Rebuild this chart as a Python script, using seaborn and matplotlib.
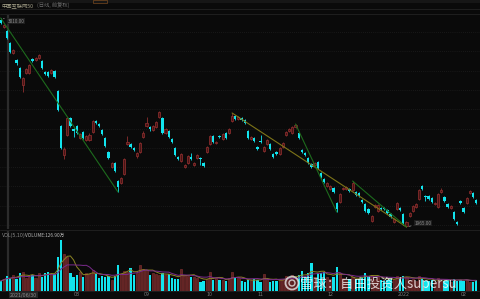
import numpy as np
import pandas as pd
import matplotlib
matplotlib.use("Agg")
import matplotlib.pyplot as plt
import seaborn as sns
from matplotlib.patches import Ellipse, Rectangle

# ---------------- data (daily candles) ----------------
opens = [3000, 2965, 2945, 2885, 2835, 2800, 2760, 2675, 2735, 2735,
         2805, 2800, 2810, 2795, 2740, 2740, 2735, 2745, 2645, 2470,
         2325, 2425, 2510, 2455, 2470, 2410, 2440, 2400, 2400, 2440,
         2495, 2480, 2450, 2410, 2340, 2265, 2285, 2195, 2185, 2230,
         2380, 2380, 2360, 2320, 2340, 2415, 2470, 2465, 2450, 2465,
         2515, 2510, 2435, 2445, 2405, 2360, 2315, 2295, 2265, 2285,
         2315, 2275, 2310, 2310, 2285, 2340, 2380, 2420, 2385, 2420,
         2405, 2435, 2435, 2495, 2520, 2505, 2510, 2500, 2445, 2405,
         2410, 2365, 2395, 2345, 2380, 2380, 2330, 2340, 2330, 2365,
         2425, 2445, 2435, 2465, 2435, 2350, 2335, 2310, 2280, 2275,
         2290, 2235, 2205, 2170, 2155, 2160, 2085, 2090, 2155, 2155,
         2155, 2150, 2140, 2135, 2100, 2080, 2055, 1995, 2065, 2045,
         2060, 2060, 2050, 2030, 1990, 2055, 2060, 2030, 1970, 2020,
         2045, 2065, 2105, 2170, 2120, 2120, 2110, 2080, 2065, 2140,
         2115, 2080, 2060, 2040, 1990, 2095, 2060, 2085, 2135, 2135,
         2100]
highs = [3010, 2980, 2950, 2890, 2855, 2805, 2765, 2715, 2760, 2780,
         2810, 2815, 2830, 2800, 2745, 2745, 2755, 2750, 2650, 2475,
         2365, 2515, 2515, 2460, 2475, 2435, 2445, 2425, 2435, 2500,
         2500, 2485, 2455, 2415, 2345, 2290, 2290, 2200, 2215, 2310,
         2420, 2385, 2365, 2340, 2390, 2445, 2515, 2470, 2475, 2495,
         2545, 2515, 2460, 2450, 2410, 2365, 2320, 2335, 2280, 2325,
         2335, 2290, 2330, 2315, 2290, 2370, 2425, 2425, 2395, 2425,
         2435, 2440, 2460, 2535, 2525, 2520, 2515, 2505, 2450, 2420,
         2415, 2370, 2425, 2370, 2405, 2385, 2335, 2345, 2365, 2390,
         2445, 2460, 2470, 2480, 2440, 2355, 2340, 2315, 2285, 2290,
         2295, 2240, 2210, 2190, 2175, 2165, 2090, 2135, 2165, 2170,
         2160, 2195, 2145, 2140, 2105, 2085, 2060, 2025, 2080, 2080,
         2065, 2065, 2055, 2035, 2010, 2090, 2065, 2035, 1995, 2040,
         2075, 2085, 2155, 2175, 2125, 2125, 2115, 2090, 2135, 2160,
         2120, 2085, 2075, 2045, 1995, 2100, 2065, 2115, 2150, 2140,
         2105]
lows = [2980, 2960, 2905, 2835, 2830, 2775, 2710, 2640, 2730, 2730,
        2790, 2795, 2805, 2755, 2725, 2715, 2730, 2710, 2545, 2355,
        2305, 2420, 2465, 2415, 2430, 2405, 2405, 2395, 2395, 2435,
        2480, 2465, 2425, 2365, 2305, 2260, 2240, 2140, 2180, 2225,
        2375, 2360, 2345, 2310, 2335, 2410, 2465, 2445, 2445, 2460,
        2510, 2430, 2430, 2410, 2385, 2320, 2300, 2290, 2260, 2280,
        2300, 2270, 2305, 2275, 2265, 2335, 2375, 2385, 2380, 2410,
        2400, 2405, 2430, 2490, 2500, 2500, 2495, 2480, 2405, 2400,
        2390, 2350, 2385, 2340, 2375, 2350, 2310, 2325, 2325, 2360,
        2420, 2440, 2430, 2460, 2405, 2335, 2320, 2280, 2260, 2270,
        2255, 2210, 2185, 2165, 2150, 2135, 2040, 2085, 2150, 2150,
        2140, 2145, 2120, 2115, 2085, 2040, 2030, 1990, 2060, 2040,
        2050, 2050, 2030, 2010, 1985, 2050, 2045, 1975, 1965, 2015,
        2040, 2060, 2100, 2150, 2095, 2100, 2085, 2075, 2060, 2135,
        2090, 2060, 2055, 2000, 1975, 2080, 2035, 2080, 2130, 2110,
        2080]
closes = [2985, 2975, 2910, 2840, 2850, 2785, 2715, 2710, 2755, 2775,
          2795, 2810, 2825, 2760, 2730, 2720, 2750, 2715, 2550, 2360,
          2355, 2510, 2470, 2445, 2435, 2430, 2410, 2420, 2425, 2495,
          2485, 2470, 2430, 2370, 2310, 2285, 2245, 2165, 2210, 2305,
          2390, 2365, 2350, 2335, 2385, 2435, 2485, 2455, 2470, 2490,
          2540, 2435, 2455, 2415, 2390, 2325, 2305, 2330, 2275, 2320,
          2305, 2285, 2325, 2305, 2270, 2365, 2420, 2390, 2390, 2415,
          2430, 2410, 2455, 2520, 2505, 2515, 2500, 2485, 2410, 2415,
          2395, 2355, 2390, 2365, 2400, 2355, 2315, 2330, 2360, 2385,
          2440, 2455, 2465, 2475, 2410, 2340, 2325, 2285, 2265, 2285,
          2260, 2215, 2190, 2185, 2170, 2140, 2055, 2130, 2160, 2165,
          2145, 2185, 2125, 2120, 2090, 2045, 2035, 2020, 2075, 2075,
          2055, 2055, 2035, 2015, 2005, 2085, 2050, 1980, 1990, 2035,
          2070, 2080, 2150, 2155, 2115, 2105, 2090, 2085, 2130, 2150,
          2095, 2065, 2070, 2005, 1980, 2085, 2040, 2110, 2145, 2115,
          2085]
volumes = [19, 24, 29, 26, 31, 23, 36, 38, 26, 27,
           32, 26, 36, 27, 36, 37, 34, 33, 67, 101,
           74, 67, 36, 27, 32, 37, 27, 36, 34, 42,
           33, 25, 29, 27, 29, 22, 29, 52, 34, 39,
           37, 45, 32, 36, 51, 44, 42, 32, 35, 33,
           31, 35, 31, 33, 25, 24, 24, 44, 31, 29,
           27, 27, 25, 17, 19, 24, 37, 22, 26, 22,
           21, 19, 26, 37, 26, 26, 19, 17, 21, 22,
           24, 21, 18, 34, 24, 17, 19, 20, 24, 24,
           30, 26, 32, 24, 32, 40, 28, 36, 56, 28,
           36, 36, 37, 28, 24, 28, 48, 36, 26, 22,
           24, 28, 24, 24, 28, 36, 30, 32, 24, 28,
           22, 20, 22, 24, 24, 30, 24, 30, 28, 22,
           24, 20, 30, 24, 20, 20, 22, 18, 26, 20,
           20, 22, 18, 24, 20, 22, 20, 22, 18, 17,
           21]

month_pos = [24, 46, 66, 82, 104, 127, 146]
month_labels = ["08", "09", "10", "11", "12", "2022", "02"]

# trend lines drawn from the high of one candle to the low of another
trend_start = [0, 73, 93, 111]
trend_end = [37, 128, 106, 128]
trend_colors = ["#1d6b1d", "#7d7418", "#1d6b1d", "#1d6b1d"]

title_name = "中国互联网50"
title_note = "(日线, 前复权)"
cursor_date = "2021/06/30"
vol_label = "VOL(5,10)"
vol_value = "VOLUME:126.90万"
watermark = "雪球：自由投资人supersu"

# ---------------- style ----------------
BG = "#0a0a0a"
CYAN = "#12e4ee"
RED_EDGE = "#8e2e2e"
RED_FACE = "#461515"
VOL_RED_FACE = "#5a2222"
sns.set_theme(style="dark", rc={"axes.facecolor": BG, "figure.facecolor": BG,
                                "savefig.facecolor": BG})
plt.rcParams["font.family"] = ["Noto Sans CJK SC", "DejaVu Sans"]

W, H = 480, 299
fig = plt.figure(figsize=(W / 100, H / 100), dpi=100)

def fy(py):
    return 1 - py / H

ax = fig.add_axes([0, fy(229), 1, (229 - 15) / H])
axv = fig.add_axes([0, fy(290.5), 1, (290.5 - 231) / H])

df = pd.DataFrame({"open": opens, "high": highs, "low": lows,
                   "close": closes, "volume": volumes})
df["idx"] = np.arange(len(df))
up = df["close"] >= df["open"]

xlim = (-0.22, 151.2)
for a in (ax, axv):
    a.set_xlim(*xlim)
    a.set_facecolor(BG)
    for s in a.spines.values():
        s.set_visible(False)
    a.set_xticks([])
    a.tick_params(left=False, bottom=False, labelleft=False, labelbottom=False)

ax.set_ylim(1955, 3025)
axv.set_ylim(0, 119)

# horizontal dotted grid
grid_y = 2940 - 96.5 * np.arange(11)
ax.set_yticks(grid_y)
ax.grid(axis="y", color="#262626", lw=0.5, ls=(0, (1, 2)))
ax.grid(axis="x", visible=False)
axv.set_yticks([])
axv.grid(False)

# crosshair line
for a in (ax, axv):
    a.axvline(2.4, color="#2c2c2c", lw=1.6, zorder=1)

# wicks
wick_colors = np.where(up, RED_EDGE, CYAN)
ax.vlines(df["idx"], df["low"], df["high"], colors=wick_colors, lw=0.6, zorder=2)
# bodies
body_bottom = np.minimum(df["open"], df["close"])
body_h = np.maximum(np.abs(df["close"] - df["open"]), 4)
ax.bar(df["idx"][~up], body_h[~up], bottom=body_bottom[~up], width=0.74,
       color=CYAN, lw=0, zorder=3)
ax.bar(df["idx"][up], body_h[up], bottom=body_bottom[up], width=0.66,
       facecolor=RED_FACE, edgecolor=RED_EDGE, lw=0.55, zorder=3)

# trend lines
for s, e, c in zip(trend_start, trend_end, trend_colors):
    ax.plot([s, e], [highs[s], lows[e]], color=c, lw=0.8, zorder=4)

# high / low labels
hi_i = int(np.argmax(highs))
lo_i = int(np.argmin(lows))
box = dict(boxstyle="square,pad=0.15", fc="#1e1e1e", ec="none")
ax.annotate(f"{highs[hi_i]:.2f}", xy=(hi_i, highs[hi_i]), xytext=(7, -3),
            textcoords="offset pixels", fontsize=3.4, color="#8c8c8c",
            va="center", ha="left", bbox=box,
            arrowprops=dict(arrowstyle="-", color="#9a9a9a", lw=0.5))
ax.annotate(f"{lows[lo_i]:.2f}", xy=(lo_i, lows[lo_i]), xytext=(8, 4),
            textcoords="offset pixels", fontsize=3.4, color="#8c8c8c",
            va="center", ha="left", bbox=box,
            arrowprops=dict(arrowstyle="-", color="#9a9a9a", lw=0.5))

# volume bars
axv.bar(df["idx"][~up], df["volume"][~up], width=0.74, color=CYAN, lw=0, zorder=3)
axv.bar(df["idx"][up], df["volume"][up], width=0.68, facecolor=VOL_RED_FACE,
        edgecolor="#7a2c2c", lw=0.5, zorder=3)
df["ma5"] = df["volume"].rolling(5, min_periods=1).mean()
df["ma10"] = df["volume"].rolling(10, min_periods=1).mean()
sns.lineplot(data=df, x="idx", y="ma5", ax=axv, color="#8c8424", lw=0.7, zorder=4)
sns.lineplot(data=df, x="idx", y="ma10", ax=axv, color="#7a2a8c", lw=0.7, zorder=4)
axv.set_xlabel("")
axv.set_ylabel("")
axv.set_xlim(*xlim)

# month labels under the volume panel
for p, lab in zip(month_pos, month_labels):
    axv.text(p, -0.07, lab, transform=axv.get_xaxis_transform(), ha="center",
             va="center", fontsize=3.4, color="#7a7a7a", family=["DejaVu Sans"])
axv.text(2.8, -0.07, cursor_date, transform=axv.get_xaxis_transform(),
         ha="left", va="center", fontsize=3.4, color="#8a8a8a",
         family=["DejaVu Sans"],
         bbox=dict(boxstyle="square,pad=0.2", fc="#262626", ec="none"))

# panel separators and top toolbar
fig.add_artist(Rectangle((0, fy(2.5)), 1, 2.5 / H, transform=fig.transFigure,
                         fc="#161616", ec="none"))
fig.add_artist(Rectangle((93 / W, fy(2.5)), 14 / W, 2.5 / H, transform=fig.transFigure,
                         fc="none", ec="#7a4a20", lw=0.5))
for py in (8.5, 13.5, 229.5, 291.2):
    fig.add_artist(plt.Line2D([0, 1], [fy(py), fy(py)], transform=fig.transFigure,
                              color="#222222", lw=0.6))

fig.text(2 / W, fy(5.7), title_name, fontsize=3.8, color="#a8a48c", va="center")
fig.text(37 / W, fy(5.7), title_note, fontsize=3.8, color="#6e6e6e", va="center")
fig.text(2 / W, fy(235.5), vol_label, fontsize=3.4, color="#8a8a8a", va="center",
         family=["DejaVu Sans"])
fig.text(25 / W, fy(235.5), vol_value, fontsize=3.4, color="#bdbdbd", va="center")

# watermark
fig.add_artist(Ellipse((292 / W, fy(283)), 13 / W, 13 / H, transform=fig.transFigure,
                       fc="none", ec="#e8e8e8", lw=1.3, alpha=0.8, zorder=10))
fig.add_artist(Ellipse((292 / W, fy(283)), 6 / W, 6 / H, transform=fig.transFigure,
                       fc="none", ec="#e8e8e8", lw=1.0, alpha=0.8, zorder=10))
fig.text(300 / W, fy(283.5), watermark, fontsize=9.6, color="white", alpha=0.78,
         va="center", ha="left", fontweight="medium", zorder=10,
         family=["Noto Sans CJK SC", "DejaVu Sans"])

fig.savefig("out.png", dpi=100)
